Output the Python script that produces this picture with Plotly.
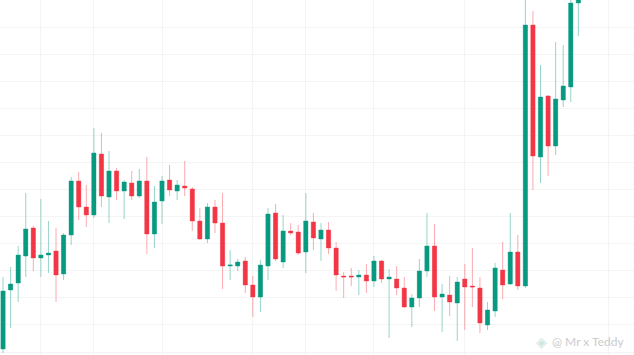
import plotly.graph_objects as go

# Candle index (time order)
idx = list(range(77))

opens = [6, 65, 72, 99, 127, 97, 100, 104, 81, 120,
         174, 148, 140, 201, 158, 184, 164, 172, 159, 174,
         121, 154, 175, 164, 169, 166, 134, 116, 148, 132,
         89, 89, 94, 70, 58, 89, 142, 93, 124, 123,
         103, 133, 116, 125, 107, 79, 79, 78, 80, 74,
         94, 76, 76, 67, 48, 57, 84, 109, 58, 60,
         52, 76, 69, 67, 30, 44, 85, 71, 103, 69,
         330, 198, 259, 209, 255, 268, 352]
highs = [78, 88, 109, 162, 129, 156, 134, 127, 122, 178,
         183, 170, 227, 222, 204, 187, 175, 184, 186, 198,
         169, 179, 190, 175, 194, 168, 147, 152, 155, 162,
         105, 96, 98, 79, 95, 147, 151, 140, 132, 130,
         162, 142, 132, 133, 113, 83, 87, 85, 91, 99,
         95, 86, 89, 78, 61, 96, 142, 131, 71, 79,
         78, 91, 107, 78, 53, 92, 113, 142, 120, 365,
         344, 290, 260, 313, 310, 362, 370]
lows = [2, 27, 53, 78, 84, 78, 82, 53, 75, 110,
        135, 128, 137, 148, 132, 155, 136, 155, 157, 101,
        107, 131, 159, 155, 159, 124, 115, 112, 122, 66,
        75, 84, 62, 38, 43, 75, 94, 87, 120, 100,
        82, 105, 94, 101, 64, 57, 69, 60, 62, 68,
        72, 17, 60, 47, 28, 48, 78, 44, 23, 39,
        14, 25, 48, 22, 25, 38, 56, 70, 65, 67,
        165, 172, 179, 200, 248, 253, 319]
closes = [64, 71, 100, 126, 97, 100, 102, 80, 120, 174,
          148, 140, 202, 159, 184, 164, 173, 159, 174, 121,
          153, 174, 165, 170, 167, 134, 116, 148, 132, 89,
          90, 93, 70, 58, 90, 141, 96, 124, 122, 102,
          134, 117, 125, 107, 80, 78, 78, 80, 74, 94,
          76, 78, 67, 48, 57, 84, 109, 58, 61, 53,
          73, 68, 68, 32, 45, 87, 70, 103, 69, 330,
          199, 258, 209, 256, 269, 352, 362]

# Vertical grid positions (candle indices)
grid_x = [5, 12, 21, 33, 40, 49, 61, 80]

UP = "#089981"
DOWN = "#F23645"
UP_WICK = "rgba(8,153,129,0.42)"
DOWN_WICK = "rgba(242,54,69,0.42)"

fig = go.Figure()

# Wicks (lighter)
fig.add_trace(go.Candlestick(
    x=idx, open=opens, high=highs, low=lows, close=closes,
    increasing=dict(line=dict(color=UP_WICK, width=1), fillcolor=UP_WICK),
    decreasing=dict(line=dict(color=DOWN_WICK, width=1), fillcolor=DOWN_WICK),
    whiskerwidth=0, hoverinfo="skip", showlegend=False,
))
# Bodies (solid)
fig.add_trace(go.Candlestick(
    x=idx, open=opens, high=highs, low=lows, close=closes,
    increasing=dict(line=dict(color=UP, width=0), fillcolor=UP),
    decreasing=dict(line=dict(color=DOWN, width=0), fillcolor=DOWN),
    whiskerwidth=0, showlegend=False,
))

fig.add_annotation(x=0.842, y=0.037, xref="paper", yref="paper",
                   text="◈", showarrow=False, xanchor="left", yanchor="middle",
                   font=dict(size=14, color="#cde5df", family="DejaVu Sans"))
fig.add_annotation(x=0.988, y=0.037, xref="paper", yref="paper",
                   text="@ Mr x Teddy", showarrow=False, xanchor="right", yanchor="middle",
                   font=dict(size=12, color="#cccccc", family="Lato"))

fig.update_layout(
    width=634, height=355, autosize=False,
    margin=dict(l=0, r=0, t=0, b=0, pad=0),
    paper_bgcolor="white", plot_bgcolor="white",
    boxgap=0.2,
    xaxis=dict(range=[-0.4, 83.35], rangeslider=dict(visible=False),
               tickvals=grid_x, showticklabels=False, ticks="",
               showgrid=True, gridcolor="#f4f4f4", gridwidth=1,
               zeroline=False, showline=False, fixedrange=True),
    yaxis=dict(range=[0, 355], tick0=3, dtick=27.05, showticklabels=False, ticks="",
               showgrid=True, gridcolor="#f4f4f4", gridwidth=1,
               zeroline=False, showline=False, fixedrange=True),
)

fig.write_html("out.html", config={"displayModeBar": False})
